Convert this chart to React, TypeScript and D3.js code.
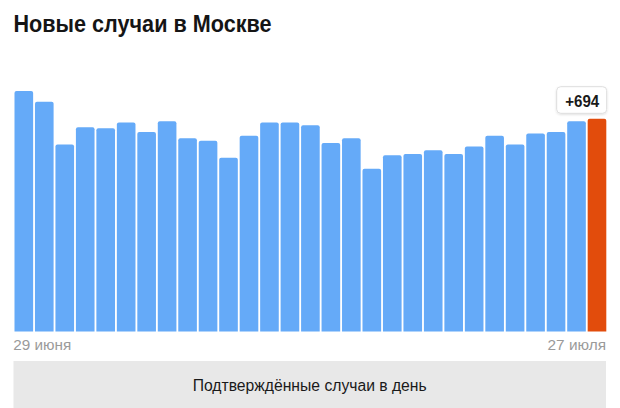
import React from "react";
import * as d3 from "d3";

const title = "Новые случаи в Москве";
const footer = "Подтверждённые случаи в день";
const days = [
  "29.06", "30.06", "01.07", "02.07", "03.07", "04.07", "05.07", "06.07",
  "07.07", "08.07", "09.07", "10.07", "11.07", "12.07", "13.07", "14.07",
  "15.07", "16.07", "17.07", "18.07", "19.07", "20.07", "21.07", "22.07",
  "23.07", "24.07", "25.07", "26.07", "27.07",
];
const cases = [
  784, 749, 610, 666, 663, 682, 651, 686, 630, 622, 567, 638, 682, 682, 673,
  615, 630, 531, 575, 579, 591, 579, 603, 638, 610, 646, 651, 686, 694,
];
const tickLabels = ["29 июня", "27 июля"];

const W = 620;
const H = 408;
const BLUE = "#65aaf8";
const ORANGE = "#e24c0c";

export default function App() {
  const x = d3.scaleBand<string>().domain(days).range([14.5, 606.3]).paddingInner(0.09).paddingOuter(0);
  const y = d3.scaleLinear().domain([0, 694]).range([331.5, 118.7]);
  const last = days[days.length - 1];
  const lastVal = cases[cases.length - 1];
  const bw = x.bandwidth();
  const right = (x(last) as number) + bw;
  const boxW = 50;
  const boxX = right - boxW + 0.4;
  const r = 2;
  const barPath = (x0: number, y0: number, w: number, y1: number) =>
    `M${x0},${y1}V${y0 + r}Q${x0},${y0} ${x0 + r},${y0}H${x0 + w - r}Q${x0 + w},${y0} ${x0 + w},${y0 + r}V${y1}Z`;

  return (
    <svg width={W} height={H} style={{ position: "absolute", left: 0, top: 0, display: "block" }}>
      <defs>
        <filter id="sh" x="-20%" y="-20%" width="140%" height="160%">
          <feDropShadow dx="0" dy="1" stdDeviation="1.2" floodColor="#000" floodOpacity="0.12" />
        </filter>
      </defs>
      <rect x={0} y={0} width={W} height={H} fill="#fff" />
      <text x={13.5} y={31.5} fontFamily="'Liberation Sans', Arial, sans-serif" fontWeight="bold" fontSize={23}
        fill="#151515" textLength={258} lengthAdjust="spacingAndGlyphs">{title}</text>
      {days.map((d, i) => (
        <path key={d} d={barPath(x(d) as number, y(cases[i]), bw, y(0))}
          fill={i === days.length - 1 ? ORANGE : BLUE} />
      ))}
      <g>
        <rect x={boxX} y={86.7} width={boxW} height={26.6} rx={4} fill="#fff" stroke="#dedede" strokeWidth={1} filter="url(#sh)" />
        <text x={boxX + boxW / 2 + 0.5} y={106.5} textAnchor="middle" fontFamily="'Liberation Sans', Arial, sans-serif" fontWeight="bold"
          fontSize={16} fill="#1a1a1a" textLength={34} lengthAdjust="spacingAndGlyphs">{"+" + lastVal}</text>
      </g>
      <text x={13.3} y={350} fontFamily="'Liberation Sans', Arial, sans-serif" fontSize={15} fill="#9a9a9a"
        textLength={58} lengthAdjust="spacingAndGlyphs">{tickLabels[0]}</text>
      <text x={606} y={350} textAnchor="end" fontFamily="'Liberation Sans', Arial, sans-serif" fontSize={15} fill="#9a9a9a"
        textLength={58.5} lengthAdjust="spacingAndGlyphs">{tickLabels[1]}</text>
      <rect x={13.5} y={361} width={592.5} height={60} fill="#e8e8e8" />
      <text x={309.7} y={391} textAnchor="middle" fontFamily="'Liberation Sans', Arial, sans-serif" fontSize={16}
        fill="#1a1a1a" textLength={234} lengthAdjust="spacingAndGlyphs">{footer}</text>
    </svg>
  );
}
